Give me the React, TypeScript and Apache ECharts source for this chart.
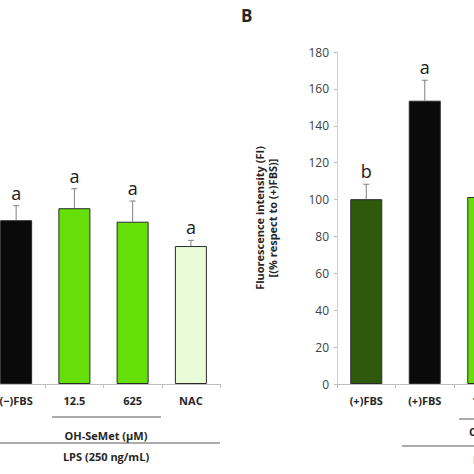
import React, { useEffect, useRef } from 'react';
import * as echarts from 'echarts';

// panel A (only its right part is in the picture)
const catsA = ['(−)FBS', '12.5', '625', 'NAC'];
const valsA = [88.8, 95.3, 88.0, 74.8];
const errA = [96.7, 105.9, 99.2, 77.9];
const lettersA = ['a', 'a', 'a', 'a'];
const colorsA = ['#0a0a0a', '#66de08', '#66de08', '#eafbd8'];

// panel B (cut at the right edge)
const catsB = ['(+)FBS', '(+)FBS', '12.5'];
const valsB = [100.2, 153.6, 101.4];
const errB = [108.3, 164.7, 109.5];
const lettersB = ['b', 'a', 'b'];
const colorsB = ['#2f5a0b', '#0a0a0a', '#66de08'];

const yTicks = { min: 0, max: 180, interval: 20 };

const FONT = '"Open Sans", "DejaVu Sans", sans-serif';

// the canvas is wider than the window so the cut-off panels keep their scale
const OX = 70;
const W = 474 + OX + 60;

const errRender = (letters: string[]) => (params: any, api: any) => {
  const i = api.value(0);
  const base = api.coord([i, api.value(1)]);
  const top = api.coord([i, api.value(2)]);
  const st = { stroke: '#808080', lineWidth: 1 };
  return {
    type: 'group',
    children: [
      { type: 'line', shape: { x1: base[0], y1: base[1], x2: top[0], y2: top[1] }, style: st },
      { type: 'line', shape: { x1: top[0] - 3, y1: top[1], x2: top[0] + 3, y2: top[1] }, style: st },
      {
        type: 'text',
        x: top[0],
        y: top[1] - 4,
        style: {
          text: letters[params.dataIndex],
          textAlign: 'center',
          textVerticalAlign: 'bottom',
          fontSize: 18,
          fontFamily: FONT,
          fill: '#1a1a1a',
        },
      },
    ],
  };
};

const xAxisCommon = {
  type: 'category' as const,
  axisLine: { lineStyle: { color: '#bfbfbf', width: 1 } },
  axisTick: { show: true, length: 4, lineStyle: { color: '#bfbfbf' } },
  axisLabel: { interval: 0, margin: 11, color: '#262626', fontSize: 11, fontWeight: 'bold' as const, fontFamily: FONT },
};

const App: React.FC = () => {
  const chartRef = useRef<HTMLDivElement>(null);

  useEffect(() => {
    if (!chartRef.current) return;
    const chart = echarts.init(chartRef.current, undefined, { renderer: 'svg' });

    const lineStyle = { stroke: '#595959', lineWidth: 1 };
    const hline = (x1: number, x2: number, y: number) => ({
      type: 'line',
      shape: { x1: x1 + OX, y1: y, x2: x2 + OX, y2: y },
      style: lineStyle,
    });
    const txt = (x: number, y: number, text: string, align: string, size = 11) => ({
      type: 'text',
      x: x + OX,
      y,
      style: { text, textAlign: align, textVerticalAlign: 'middle', fontSize: size, fontWeight: 'bold', fontFamily: FONT, fill: '#262626' },
    });

    const option: echarts.EChartsOption = {
      animation: false,
      backgroundColor: '#ffffff',
      grid: [
        { left: -13 + OX, top: 52, width: 233, height: 332 },
        { left: 337 + OX, top: 52, width: 175.5, height: 332 },
      ],
      xAxis: [
        { ...xAxisCommon, gridIndex: 0, data: catsA },
        { ...xAxisCommon, gridIndex: 1, data: catsB },
      ],
      yAxis: [
        { type: 'value', gridIndex: 0, ...yTicks, show: false, splitLine: { show: false } },
        {
          type: 'value',
          gridIndex: 1,
          ...yTicks,
          axisLine: { show: true, lineStyle: { color: '#d0d0d0' } },
          axisTick: { show: true, length: 3, lineStyle: { color: '#bfbfbf' } },
          axisLabel: { color: '#404040', fontSize: 12, margin: 8, fontFamily: FONT },
          splitLine: { show: false },
          name: 'Fluorescence intensity (FI)\n[(% respect to (+)FBS)]',
          nameLocation: 'middle',
          nameRotate: 90,
          nameGap: 58,
          nameTextStyle: { color: '#262626', fontSize: 11, fontWeight: 'bold', fontFamily: FONT, lineHeight: 13 },
        },
      ],
      series: [
        {
          type: 'bar',
          xAxisIndex: 0,
          yAxisIndex: 0,
          barWidth: 32,
          data: valsA.map((v, i) => ({ value: v, itemStyle: { color: colorsA[i] } })),
          itemStyle: { borderColor: '#2a2a2a', borderWidth: 1 },
        },
        {
          type: 'custom',
          xAxisIndex: 0,
          yAxisIndex: 0,
          renderItem: errRender(lettersA) as any,
          data: valsA.map((v, i) => [i, v, errA[i]]),
          z: 5,
        },
        {
          type: 'bar',
          xAxisIndex: 1,
          yAxisIndex: 1,
          barWidth: 32,
          data: valsB.map((v, i) => ({ value: v, itemStyle: { color: colorsB[i] } })),
          itemStyle: { borderColor: '#2a2a2a', borderWidth: 1 },
        },
        {
          type: 'custom',
          xAxisIndex: 1,
          yAxisIndex: 1,
          renderItem: errRender(lettersB) as any,
          data: valsB.map((v, i) => [i, v, errB[i]]),
          z: 5,
        },
      ],
      graphic: [
        hline(52, 161, 417),
        txt(106, 435, 'OH-SeMet (µM)', 'center'),
        hline(-20, 220, 443),
        txt(106, 456, 'LPS (250 ng/mL)', 'center'),
        hline(459, 530, 419),
        txt(469, 431, 'OH-SeMet (µM)', 'left'),
        hline(402, 530, 446),
        txt(473, 459, 'LPS (250 ng/mL)', 'left'),
        txt(241, 15, 'B', 'left', 17),
      ] as any,
    };

    chart.setOption(option);
    return () => chart.dispose();
  }, []);

  return (
    <div style={{ position: 'fixed', left: 0, top: 0, width: '474px', height: '474px', overflow: 'hidden' }}>
      <div
        ref={chartRef}
        style={{ position: 'absolute', left: `${-OX}px`, top: 0, width: `${W}px`, height: '474px' }}
      />
    </div>
  );
};

export default App;
